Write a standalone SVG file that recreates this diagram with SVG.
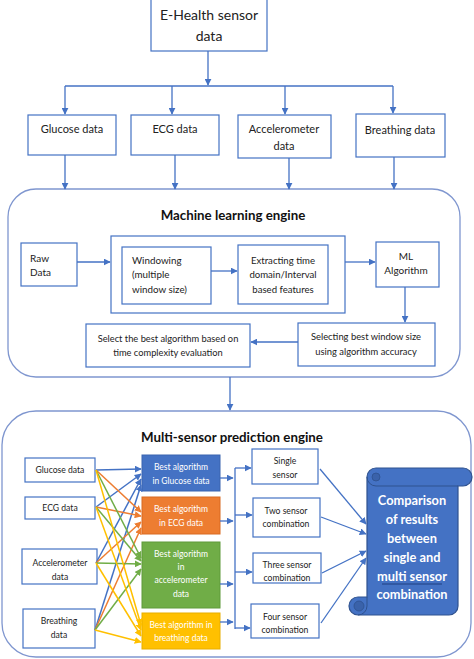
<svg xmlns="http://www.w3.org/2000/svg" width="474" height="659" viewBox="0 0 474 659">
<style>
.bx{fill:#fff;stroke:#4472C4;stroke-width:1.2}
.fr{fill:#fff;stroke:#7F96CF;stroke-width:1.3}
.t{font-family:Lato,"Liberation Sans",sans-serif;font-size:11px;fill:#222;text-anchor:middle}
.ts{font-family:Lato,"Liberation Sans",sans-serif;font-size:8.6px;fill:#222;text-anchor:middle}
.tw{font-family:Lato,"Liberation Sans",sans-serif;font-size:8.5px;fill:#fff;text-anchor:middle}
.th{font-family:Lato,"Liberation Sans",sans-serif;font-size:13.3px;font-weight:bold;fill:#111;text-anchor:middle}
.tc{font-family:Lato,"Liberation Sans",sans-serif;font-size:12.8px;font-weight:bold;fill:#fff;text-anchor:middle}
.s14{font-size:14px}.s10{font-size:10px}.s98{font-size:9.8px}.s96{font-size:9.6px}.s94{font-size:9.4px}.s93{font-size:9.3px}
.st{text-anchor:start}
.c{fill:none;stroke:#4472C4;stroke-width:1.3}
.cb{fill:none;stroke:#4472C4;stroke-width:1.5}
.co{fill:none;stroke:#ED7D31;stroke-width:1.5}
.cg{fill:none;stroke:#70AD47;stroke-width:1.5}
.cy{fill:none;stroke:#FFC000;stroke-width:1.5}
</style>
<defs>
<marker id="ab" viewBox="0 0 10 10" refX="9" refY="5" markerWidth="7" markerHeight="7" markerUnits="userSpaceOnUse" orient="auto"><path d="M0,0L10,5L0,10z" fill="#4472C4"/></marker>
<marker id="ao" viewBox="0 0 10 10" refX="9" refY="5" markerWidth="7" markerHeight="7" markerUnits="userSpaceOnUse" orient="auto"><path d="M0,0L10,5L0,10z" fill="#ED7D31"/></marker>
<marker id="ag" viewBox="0 0 10 10" refX="9" refY="5" markerWidth="7" markerHeight="7" markerUnits="userSpaceOnUse" orient="auto"><path d="M0,0L10,5L0,10z" fill="#70AD47"/></marker>
<marker id="ay" viewBox="0 0 10 10" refX="9" refY="5" markerWidth="7" markerHeight="7" markerUnits="userSpaceOnUse" orient="auto"><path d="M0,0L10,5L0,10z" fill="#FFC000"/></marker>
</defs>
<rect width="474" height="659" fill="#fff"/>

<g id="ml-engine"><rect class="fr" x="8" y="189" width="452" height="188" rx="28"/><text class="th" x="233" y="220">Machine learning engine</text></g>
<g id="ms-engine"><rect class="fr" x="2" y="411" width="469" height="246" rx="34"/><text class="th" x="232" y="442">Multi-sensor prediction engine</text></g>

<g id="ehealth"><rect class="bx" x="151" y="-1" width="116" height="52"/><text class="t s14" x="209" y="20">E-Health sensor</text><text class="t s14" x="209" y="41">data</text></g>
<g id="glucose"><rect class="bx" x="28" y="115" width="88" height="40"/><text class="t" x="72" y="133">Glucose data</text></g>
<g id="ecg"><rect class="bx" x="131" y="115" width="88" height="40"/><text class="t" x="175" y="133">ECG data</text></g>
<g id="accel"><rect class="bx" x="238" y="115" width="93" height="43"/><text class="t" x="284" y="133">Accelerometer</text><text class="t" x="284" y="150">data</text></g>
<g id="breath"><rect class="bx" x="356" y="114" width="89" height="43"/><text class="t" x="400" y="134">Breathing data</text></g>

<g id="raw"><rect class="bx" x="21" y="243" width="56" height="43"/><text class="t s10 st" x="30" y="262">Raw</text><text class="t s10 st" x="30" y="276">Data</text></g>
<g id="outer"><rect class="bx" x="111" y="236" width="234" height="77"/></g>
<g id="windowing"><rect class="bx" x="122" y="247" width="89" height="57"/><text class="t s98 st" x="132" y="264">Windowing</text><text class="t s98 st" x="132" y="278">(multiple</text><text class="t s98 st" x="132" y="293">window size)</text></g>
<g id="extract"><rect class="bx" x="238" y="245" width="90" height="59"/><text class="t s96" x="283" y="264">Extracting time</text><text class="t s96" x="283" y="278">domain/Interval</text><text class="t s96" x="283" y="293">based features</text></g>
<g id="mlalg"><rect class="bx" x="376" y="242" width="63" height="45"/><text class="t s10" x="406" y="260">ML</text><text class="t s10" x="406" y="274">Algorithm</text></g>
<g id="selwin"><rect class="bx" x="298" y="323" width="137" height="43"/><text class="t s94" x="366" y="340">Selecting best window size</text><text class="t s94" x="366" y="355">using algorithm accuracy</text></g>
<g id="selalg"><rect class="bx" x="86" y="324" width="164" height="43"/><text class="t s93" x="168" y="342">Select the best algorithm based on</text><text class="t s93" x="168" y="356">time complexity evaluation</text></g>

<g id="in-glucose"><rect class="bx" x="25" y="458" width="70" height="24"/><text class="ts" x="60" y="473">Glucose data</text></g>
<g id="in-ecg"><rect class="bx" x="25" y="497" width="70" height="22"/><text class="ts" x="60" y="511">ECG data</text></g>
<g id="in-accel"><rect class="bx" x="22" y="549" width="75" height="35"/><text class="ts" x="60" y="566">Accelerometer</text><text class="ts" x="60" y="580">data</text></g>
<g id="in-breath"><rect class="bx" x="23" y="609" width="72" height="39"/><text class="ts" x="59" y="624">Breathing</text><text class="ts" x="59" y="638">data</text></g>

<g id="best-glucose"><rect x="142" y="455" width="78" height="36" fill="#4472C4" stroke="#3A64B0"/><text class="tw" x="181" y="470">Best algorithm</text><text class="tw" x="181" y="484">in Glucose  data</text></g>
<g id="best-ecg"><rect x="142" y="497" width="78" height="37" fill="#ED7D31" stroke="#D86B22"/><text class="tw" x="181" y="512">Best algorithm</text><text class="tw" x="181" y="526">in ECG data</text></g>
<g id="best-accel"><rect x="142" y="542" width="78" height="66" fill="#70AD47" stroke="#5F9A3A"/><text class="tw" x="181" y="557">Best algorithm</text><text class="tw" x="181" y="570">in</text><text class="tw" x="181" y="583">accelerometer</text><text class="tw" x="181" y="597">data</text></g>
<g id="best-breath"><rect x="142" y="613" width="78" height="36" fill="#FFC000" stroke="#E8AE00"/><text class="tw" x="181" y="628">Best algorithm in</text><text class="tw" x="181" y="641">breathing data</text></g>

<g id="single"><rect class="bx" x="252" y="449" width="66" height="35"/><text class="ts" x="285" y="464">Single</text><text class="ts" x="285" y="478">sensor</text></g>
<g id="two"><rect class="bx" x="253" y="498" width="67" height="39"/><text class="ts" x="286" y="514">Two sensor</text><text class="ts" x="286" y="527">combination</text></g>
<g id="three"><rect class="bx" x="253" y="553" width="68" height="30"/><text class="ts" x="287" y="568">Three sensor</text><text class="ts" x="287" y="581">combination</text></g>
<g id="four"><rect class="bx" x="251" y="604" width="68" height="34"/><text class="ts" x="285" y="620">Four sensor</text><text class="ts" x="285" y="633">combination</text></g>

<g id="comparison">
<path d="M376,468H463A9,9 0 0 1 463,486H458V606A9,9 0 0 1 449,615H358A9,9 0 0 1 358,597H367V477A9,9 0 0 1 376,468Z" fill="#4472C4" stroke="#2F528F" stroke-width="1.2"/>
<path d="M367,477A9,9 0 0 0 376,486H458" fill="none" stroke="#2F528F" stroke-width="1"/>
<circle cx="376" cy="477" r="4" fill="#3A62AA" stroke="#2F528F" stroke-width="0.8"/>
<path d="M367,597V606A9,9 0 0 1 358,615" fill="none" stroke="#2F528F" stroke-width="1"/>
<circle cx="359" cy="606" r="5" fill="#3A62AA" stroke="#2F528F" stroke-width="0.8"/>
<text class="tc" x="412" y="505">Comparison</text>
<text class="tc" x="412" y="524">of results</text>
<text class="tc" x="412" y="543">between</text>
<text class="tc" x="412" y="562">single and</text>
<text class="tc" x="412" y="581">multi sensor</text>
<line x1="382" y1="584" x2="442" y2="584" stroke="#1F3F80" stroke-width="1"/>
<text class="tc" x="412" y="599">combination</text>
</g>

<g id="connectors">
<path class="c" d="M208,51V85" marker-end="url(#ab)"/>
<path class="c" d="M65,86H393"/>
<path class="c" d="M65,86V114" marker-end="url(#ab)"/>
<path class="c" d="M172,86V114" marker-end="url(#ab)"/>
<path class="c" d="M285,86V114" marker-end="url(#ab)"/>
<path class="c" d="M393,86V113" marker-end="url(#ab)"/>
<path class="c" d="M65,155V189" marker-end="url(#ab)"/>
<path class="c" d="M175,155V189" marker-end="url(#ab)"/>
<path class="c" d="M289,158V189" marker-end="url(#ab)"/>
<path class="c" d="M394,157V189" marker-end="url(#ab)"/>
<path class="c" d="M77,262H110" marker-end="url(#ab)"/>
<path class="c" d="M211,271H237" marker-end="url(#ab)"/>
<path class="c" d="M345,262H375" marker-end="url(#ab)"/>
<path class="c" d="M405,287V322" marker-end="url(#ab)"/>
<path class="c" d="M298,342H251" marker-end="url(#ab)"/>
<path class="c" d="M230,377V410" marker-end="url(#ab)"/>

<path class="cb" d="M96,470L141,469" marker-end="url(#ab)"/>
<path class="cb" d="M96,507L141,474" marker-end="url(#ab)"/>
<path class="cb" d="M96,563L141,479" marker-end="url(#ab)"/>
<path class="cb" d="M95,630L141,485" marker-end="url(#ab)"/>
<path class="co" d="M96,470L141,512" marker-end="url(#ao)"/>
<path class="co" d="M96,507L141,516" marker-end="url(#ao)"/>
<path class="co" d="M96,563L141,522" marker-end="url(#ao)"/>
<path class="co" d="M95,630L141,528" marker-end="url(#ao)"/>
<path class="cg" d="M96,470L141,558" marker-end="url(#ag)"/>
<path class="cg" d="M96,507L141,561" marker-end="url(#ag)"/>
<path class="cg" d="M96,563L141,564" marker-end="url(#ag)"/>
<path class="cg" d="M95,630L141,569" marker-end="url(#ag)"/>
<path class="cy" d="M96,470L141,625" marker-end="url(#ay)"/>
<path class="cy" d="M96,507L141,630" marker-end="url(#ay)"/>
<path class="cy" d="M96,563L141,636" marker-end="url(#ay)"/>
<path class="cy" d="M95,630L141,642" marker-end="url(#ay)"/>

<path class="c" d="M220,478H233" marker-end="url(#ab)"/>
<path class="c" d="M220,521H233" marker-end="url(#ab)"/>
<path class="c" d="M220,584H233" marker-end="url(#ab)"/>
<path class="c" d="M220,622H233" marker-end="url(#ab)"/>
<path class="c" d="M235,468V629"/>
<path class="c" d="M235,468H251" marker-end="url(#ab)"/>
<path class="c" d="M235,515H252" marker-end="url(#ab)"/>
<path class="c" d="M235,572H252" marker-end="url(#ab)"/>
<path class="c" d="M235,628H250" marker-end="url(#ab)"/>

<path class="c" d="M320,469L366,524" marker-end="url(#ab)"/>
<path class="c" d="M321,517L366,534" marker-end="url(#ab)"/>
<path class="c" d="M322,573L366,551" marker-end="url(#ab)"/>
<path class="c" d="M321,623L366,558" marker-end="url(#ab)"/>
</g>
</svg>
